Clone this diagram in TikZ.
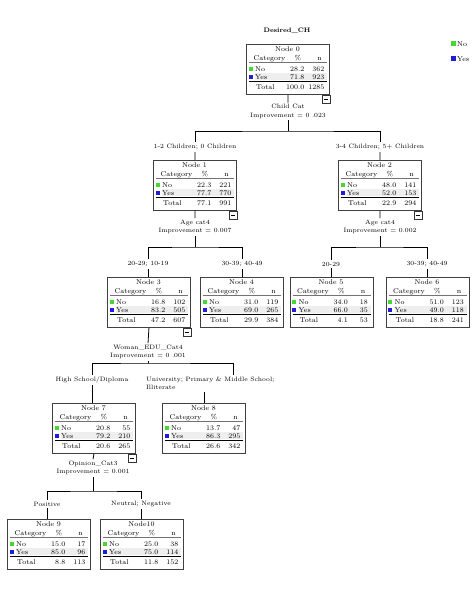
\documentclass[tikz,border=0pt]{standalone}
\usepackage{fontspec}
\definecolor{nocol}{RGB}{70,215,50}
\definecolor{yescol}{RGB}{30,30,215}
\definecolor{bandcol}{RGB}{238,238,238}
\tikzset{
  every node/.style={font=\fontsize{7}{8.5}\selectfont, inner sep=0pt},
  box/.style={draw=black!75, line width=0.9pt, minimum width=83pt, minimum height=50pt, inner sep=0pt},
  cell/.style={inner sep=0pt},
  thinrule/.style={draw=black!55, line width=0.5pt},
  thickrule/.style={draw=black, line width=0.9pt},
  conn/.style={draw=black, line width=0.8pt},
  splitlabel/.style={align=center, inner sep=1.5pt, font=\fontsize{6.3}{8.5}\selectfont},
  branchlabel/.style={inner sep=2pt, font=\fontsize{6.3}{8.3}\selectfont},
  minusbox/.style={draw=black!80, line width=0.6pt, fill=white},
  sq/.style={minimum width=4pt, minimum height=4pt, inner sep=0pt}
}
\newcommand{\TreeBox}[9]{%
  \begin{scope}[shift={(#2)}]
    \fill[bandcol] (9,29) rectangle (81,36.3);
    \node[box, anchor=north west] (#1) at (0,0) {};
    \node[cell, anchor=base] (#1-t) at (41.5,7.8) {#3};
    \node[cell, anchor=base west] (#1-c) at (7.5,16.1) {Category};
    \node[cell, anchor=base] (#1-p) at (52,16.1) {\%};
    \node[cell, anchor=base] (#1-n) at (73.5,16.1) {n};
    \draw[thinrule] (3,17.9) -- (81,17.9);
    \node[sq, fill=nocol] (#1-gs) at (4.8,25.3) {};
    \node[cell, anchor=base west] (#1-no) at (9,27.7) {No};
    \node[cell, anchor=base east] (#1-np) at (58.5,27.7) {#4};
    \node[cell, anchor=base east] (#1-nn) at (78.5,27.7) {#5};
    \node[sq, fill=yescol] (#1-bs) at (4.8,32.7) {};
    \node[cell, anchor=base west] (#1-yes) at (9,35.1) {Yes};
    \node[cell, anchor=base east] (#1-yp) at (58.5,35.1) {#6};
    \node[cell, anchor=base east] (#1-yn) at (78.5,35.1) {#7};
    \draw[thickrule] (3,37.2) -- (81,37.2);
    \node[cell, anchor=base west] (#1-tot) at (10,45.1) {Total};
    \node[cell, anchor=base east] (#1-tp) at (58.5,45.1) {#8};
    \node[cell, anchor=base east] (#1-tn) at (78.5,45.1) {#9};
  \end{scope}}
\newcommand{\MinusBox}[1]{%
  \draw[minusbox] ([xshift=-8pt]#1.south east) rectangle ([yshift=-8pt]#1.south east);
  \draw[line width=0.6pt] ([xshift=-6pt,yshift=-4pt]#1.south east) -- ([xshift=-2pt,yshift=-4pt]#1.south east);}
\begin{document}
\begin{tikzpicture}[x=1pt,y=-1pt]
\fill[white] (0,0) rectangle (474,594);
\useasboundingbox (0,0) rectangle (474,594);

\node[font=\fontsize{6.5}{8}\selectfont\bfseries] (ttl) at (287,31) {Desired\_CH};

% legend
\node[sq, minimum width=5pt, minimum height=5pt, fill=nocol] (lg1) at (453.5,44) {};
\node[anchor=base west] (lg1t) at (457,46.4) {No};
\node[sq, minimum width=5pt, minimum height=5pt, fill=yescol] (lg2) at (453.5,59) {};
\node[anchor=base west] (lg2t) at (457,61.4) {Yes};

% level 0
\TreeBox{n0}{246,44}{Node 0}{28.2}{362}{71.8}{923}{100.0}{1285}
\MinusBox{n0}
\node[splitlabel] (s0) at (288,111.5) {Child Cat\\Improvement = 0 .023};
\coordinate (bar0) at (288,131);
\node[branchlabel] (b1) at (195,147) {1-2 Children; 0 Children};
\node[branchlabel] (b2) at (380,147) {3-4 Children; 5+ Children};

% level 1
\TreeBox{n1}{153,160}{Node 1}{22.3}{221}{77.7}{770}{77.1}{991}
\MinusBox{n1}
\TreeBox{n2}{338,160}{Node 2}{48.0}{141}{52.0}{153}{22.9}{294}
\MinusBox{n2}
\node[splitlabel] (s1) at (195,227) {Age cat4\\Improvement = 0.007};
\node[splitlabel] (s2) at (380,227) {Age cat4\\Improvement = 0.002};
\coordinate (bar1) at (195,247);
\coordinate (bar2) at (380,247);
\node[branchlabel] (b3) at (148,264) {20-29; 10-19};
\node[branchlabel] (b4) at (242,264) {30-39; 40-49};
\node[branchlabel] (b5) at (331,264) {20-29};
\node[branchlabel] (b6) at (427,264) {30-39; 40-49};

% level 2
\TreeBox{n3}{107,277}{Node 3}{16.8}{102}{83.2}{505}{47.2}{607}
\MinusBox{n3}
\TreeBox{n4}{200,277}{Node 4}{31.0}{119}{69.0}{265}{29.9}{384}
\TreeBox{n5}{289.5,277}{Node 5}{34.0}{18}{66.0}{35}{4.1}{53}
\TreeBox{n6}{385.5,277}{Node 6}{51.0}{123}{49.0}{118}{18.8}{241}
\node[splitlabel] (s3) at (148,352) {Woman\_EDU\_Cat4\\Improvement = 0 .001};
\coordinate (bar3) at (148,363);
\node[branchlabel] (b7) at (92,380) {High School/Diploma};
\node[branchlabel, align=left, anchor=north west] (b8) at (144,374.5) {University; Primary \& Middle School;\\Illiterate};
\coordinate (b8in) at (233,374.5);

% level 3
\TreeBox{n7}{52,403}{Node 7}{20.8}{55}{79.2}{210}{20.6}{265}
\MinusBox{n7}
\TreeBox{n8}{162,403}{Node 8}{13.7}{47}{86.3}{295}{26.6}{342}
\node[splitlabel] (s7) at (93,468) {Opinion\_Cat3\\Improvement = 0.001};
\coordinate (bar7) at (93,491);
\node[branchlabel] (b9) at (47,504) {Positive};
\node[branchlabel] (b10) at (141,504) {Neutral; Negative};

% level 4
\TreeBox{n9}{7,519}{Node 9}{15.0}{17}{85.0}{96}{8.8}{113}
\TreeBox{n10}{100,519}{Node10}{25.0}{38}{75.0}{114}{11.8}{152}

% connectors
\draw[conn] (n0.south) -- (s0.north);
\draw[conn] (s0.south) -- (bar0);
\draw[conn] (b1.north) |- (bar0) -| (b2.north);
\draw[conn] (b1.south) -- (n1.north);
\draw[conn] (b2.south) -- (n2.north);

\draw[conn] (n1.south) -- (s1.north);
\draw[conn] (s1.south) -- (bar1);
\draw[conn] (b3.north) |- (bar1) -| (b4.north);
\draw[conn] (b3.south) -- (b3.south |- n3.north);
\draw[conn] (b4.south) -- (b4.south |- n4.north);

\draw[conn] (n2.south) -- (s2.north);
\draw[conn] (s2.south) -- (bar2);
\draw[conn] (b5.north) |- (bar2) -| (b6.north);
\draw[conn] (b5.south) -- (b5.south |- n5.north);
\draw[conn] (b6.south) -- (b6.south |- n6.north);

\draw[conn] (n3.south) -- (s3.north);
\draw[conn] (s3.south) -- (bar3);
\draw[conn] (b7.north) |- (bar3) -| (b8in);
\draw[conn] (b7.south) -- (b7.south |- n7.north);
\draw[conn] (n8.north |- b8.south) -- (n8.north);

\draw[conn] (n7.south) -- (s7.north);
\draw[conn] (s7.south) -- (bar7);
\draw[conn] (b9.north) |- (bar7) -| (b10.north);
\draw[conn] (b9.south) -- (b9.south |- n9.north);
\draw[conn] (b10.south) -- (b10.south |- n10.north);
\end{tikzpicture}
\end{document}
